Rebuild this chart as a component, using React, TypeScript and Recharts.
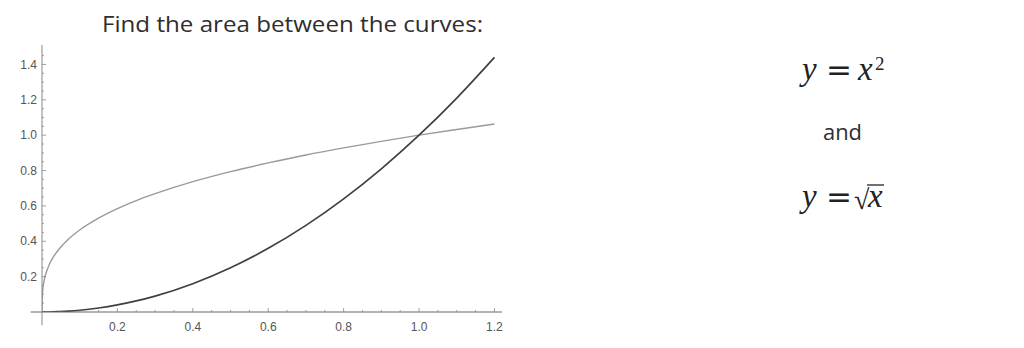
import React from 'react';
import { LineChart, Line, XAxis, YAxis, ReferenceLine } from 'recharts';

// Sample points along the two curves
const xValues = [0, 0.0005, 0.002, 0.005, 0.01, 0.02, 0.03, 0.05, 0.07, 0.1, 0.15, 0.2, 0.25, 0.3, 0.4, 0.5, 0.6, 0.7, 0.8, 0.9, 1.0, 1.1, 1.2];
const rootCurve = [0, 0.079, 0.126, 0.171, 0.215, 0.271, 0.311, 0.368, 0.412, 0.464, 0.531, 0.585, 0.63, 0.669, 0.737, 0.794, 0.843, 0.888, 0.928, 0.965, 1.0, 1.032, 1.063];
const squareCurve = [0, 0, 0, 0, 0, 0, 0.001, 0.0025, 0.005, 0.01, 0.0225, 0.04, 0.0625, 0.09, 0.16, 0.25, 0.36, 0.49, 0.64, 0.81, 1.0, 1.21, 1.44];

// Axis ticks
const xMajorTicks = [0.2, 0.4, 0.6, 0.8, 1.0, 1.2];
const xTickLabels = ['0.2', '0.4', '0.6', '0.8', '1.0', '1.2'];
const xMinorTicks = [0.05, 0.1, 0.15, 0.25, 0.3, 0.35, 0.45, 0.5, 0.55, 0.65, 0.7, 0.75, 0.85, 0.9, 0.95, 1.05, 1.1, 1.15];
const yMajorTicks = [0.2, 0.4, 0.6, 0.8, 1.0, 1.2, 1.4];
const yTickLabels = ['0.2', '0.4', '0.6', '0.8', '1.0', '1.2', '1.4'];
const yMinorTicks = [0.05, 0.1, 0.15, 0.25, 0.3, 0.35, 0.45, 0.5, 0.55, 0.65, 0.7, 0.75, 0.85, 0.9, 0.95, 1.05, 1.1, 1.15, 1.25, 1.3, 1.35, 1.45];

// Axis extents (axes cross at the origin)
const xDomain = [0, 1.22];
const yDomain = [0, 1.51];
const xAxisStart = -0.03;
const yAxisStart = -0.075;

const data = xValues.map((x, i) => ({ x, root: rootCurve[i], square: squareCurve[i] }));

const tickFont = { fontFamily: '"Liberation Sans", Arial, sans-serif', fontSize: 12, fill: '#555' };

const XTick = (props: any) => {
  const { x, y, payload } = props;
  const i = xMajorTicks.indexOf(payload.value);
  const major = i >= 0;
  return (
    <g>
      <line x1={x} x2={x} y1={y} y2={y - (major ? 4 : 2)} stroke="#888" strokeWidth={0.8} />
      {major && (
        <text x={x} y={y + 18.5} textAnchor="middle" {...tickFont}>
          {xTickLabels[i]}
        </text>
      )}
    </g>
  );
};

const YTick = (props: any) => {
  const { x, y, payload } = props;
  const i = yMajorTicks.indexOf(payload.value);
  const major = i >= 0;
  return (
    <g>
      <line x1={x} x2={x + (major ? 4 : 2)} y1={y} y2={y} stroke="#888" strokeWidth={0.8} />
      {major && (
        <text x={x - 5} y={y + 4.2} textAnchor="end" {...tickFont}>
          {yTickLabels[i]}
        </text>
      )}
    </g>
  );
};

const xTicks = [...xMajorTicks, ...xMinorTicks].sort((a, b) => a - b);
const yTicks = [...yMajorTicks, ...yMinorTicks].sort((a, b) => a - b);

const mathFont = '"Liberation Serif", "Times New Roman", serif';
const textFont = '"Open Sans", "Noto Sans", sans-serif';

export default function App() {
  return (
    <div style={{ position: 'absolute', left: 0, top: 0, width: 1024, height: 348, background: '#fff', overflow: 'hidden' }}>
      <LineChart width={1024} height={348} data={data} margin={{ top: 45, right: 522, bottom: 6, left: 2 }}>
        <XAxis
          type="number"
          dataKey="x"
          domain={xDomain}
          allowDataOverflow
          ticks={xTicks}
          interval={0}
          height={30}
          tickSize={0}
          tickMargin={0}
          tickLine={false}
          tick={<XTick />}
          axisLine={{ stroke: '#666', strokeWidth: 1 }}
        />
        <YAxis
          type="number"
          domain={yDomain}
          allowDataOverflow
          ticks={yTicks}
          interval={0}
          width={40}
          tickSize={0}
          tickMargin={0}
          tickLine={false}
          tick={<YTick />}
          axisLine={{ stroke: '#888', strokeWidth: 1 }}
        />
        <ReferenceLine segment={[{ x: xAxisStart, y: 0 }, { x: 0, y: 0 }]} ifOverflow="visible" stroke="#666" strokeWidth={1} />
        <ReferenceLine segment={[{ x: 0, y: yAxisStart }, { x: 0, y: 0 }]} ifOverflow="visible" stroke="#888" strokeWidth={1} />
        <Line type="monotone" dataKey="root" stroke="#9a9a9a" strokeWidth={1.4} dot={false} isAnimationActive={false} />
        <Line type="monotone" dataKey="square" stroke="#404040" strokeWidth={1.7} dot={false} isAnimationActive={false} />
      </LineChart>
      <svg width={1024} height={348} style={{ position: 'absolute', left: 0, top: 0 }}>
        <text x={102} y={32} fontFamily={textFont} fontSize={21} fill="#2e2e2e" textLength={381} lengthAdjust="spacingAndGlyphs">
          Find the area between the curves:
        </text>

        {/* y = x^2 */}
        <text x={802} y={80} fontFamily={mathFont} fontStyle="italic" fontSize={33} fill="#222">y</text>
        <text x={839} y={80} fontFamily='"DejaVu Sans", sans-serif' fontSize={31} fill="#222" textAnchor="middle">=</text>
        <text x={858} y={80} fontFamily={mathFont} fontStyle="italic" fontSize={33} fill="#222">x</text>
        <text x={875} y={70} fontFamily={mathFont} fontSize={19} fill="#222">2</text>

        <text x={823} y={140} fontFamily={textFont} fontSize={21} fill="#2e2e2e" textLength={39} lengthAdjust="spacingAndGlyphs">and</text>

        {/* y = sqrt(x) */}
        <text x={802} y={207} fontFamily={mathFont} fontStyle="italic" fontSize={33} fill="#222">y</text>
        <text x={839} y={207} fontFamily='"DejaVu Sans", sans-serif' fontSize={31} fill="#222" textAnchor="middle">=</text>
        <text x={854} y={209} fontFamily={mathFont} fontSize={28} fill="#222">√</text>
        <line x1={867} x2={884} y1={185} y2={185} stroke="#222" strokeWidth={1.3} />
        <text x={868} y={207} fontFamily={mathFont} fontStyle="italic" fontSize={33} fill="#222">x</text>
      </svg>
    </div>
  );
}
